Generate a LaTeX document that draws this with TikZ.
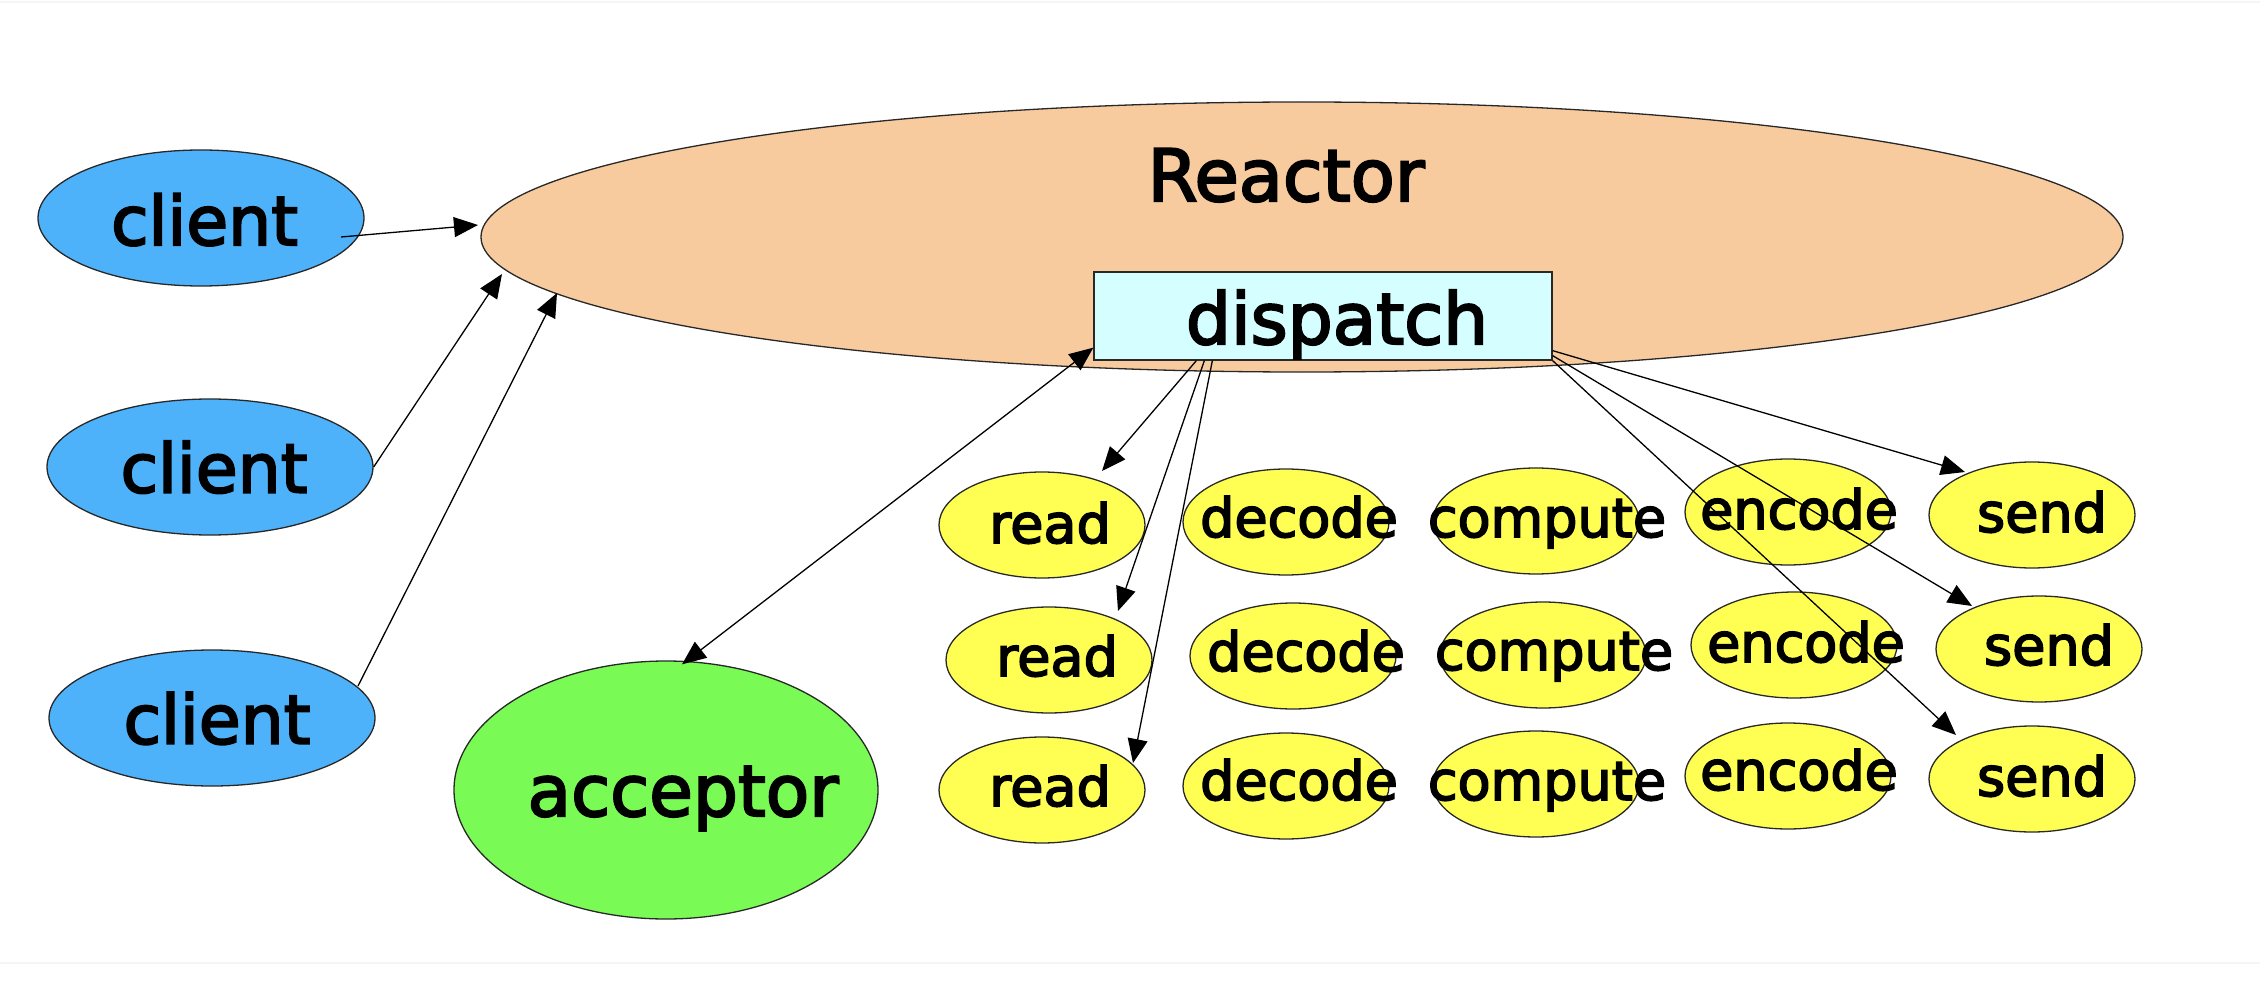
\documentclass[tikz,border=0pt]{standalone}
\usepackage{fontspec}
\setmainfont{DejaVu Sans}[FakeBold=3]
\usetikzlibrary{shapes.geometric,arrows.meta,calc}
\definecolor{clientblue}{RGB}{77,178,250}
\definecolor{reactorpeach}{RGB}{247,203,158}
\definecolor{dispcyan}{RGB}{212,254,255}
\definecolor{accgreen}{RGB}{122,250,85}
\definecolor{yelfill}{RGB}{255,255,83}
\definecolor{edgegray}{RGB}{40,40,40}
\newcommand{\ynode}[6]{%
  \node[ybox] (#1) at (#2,#3) {};
  \node[ytext] (#1t) at (#5,#6) {#4};}
\begin{document}
\begin{tikzpicture}[x=1pt,y=-1pt,
  shapeline/.style={draw=edgegray,line width=1.3pt},
  ell/.style={shapeline,ellipse,inner sep=0pt},
  ybox/.style={ell,fill=yelfill,minimum width=206pt,minimum height=106pt},
  cbox/.style={ell,fill=clientblue,minimum width=326pt,minimum height=136pt},
  ytext/.style={anchor=base,inner sep=0pt,font=\fontsize{54}{60}\selectfont},
  btext/.style={anchor=base,inner sep=0pt,font=\fontsize{68}{76}\selectfont},
  ltext/.style={anchor=base,inner sep=0pt,font=\fontsize{72}{80}\selectfont},
  conn/.style={draw=black,line width=1.3pt,-{Triangle[length=24pt,width=20pt]}},
  dconn/.style={draw=black,line width=1.3pt,{Triangle[length=24pt,width=20pt]}-{Triangle[length=24pt,width=20pt]}}]
\useasboundingbox (0,0) rectangle (2260,984);
\fill[white] (0,0) rectangle (2260,984);
\draw[black!4,line width=1.5pt] (0,2) -- (2260,2);
\draw[black!4,line width=1.5pt] (0,963) -- (2260,963);
% Reactor
\node[ell,fill=reactorpeach,minimum width=1642pt,minimum height=270pt] (reactor) at (1302,237) {};
\node[ltext] (reactort) at (1286,201) {Reactor};
\node[shapeline,rectangle,fill=dispcyan,inner sep=0pt,minimum width=458pt,minimum height=88pt] (dispatch) at (1323,316) {};
\node[inner sep=0pt,anchor=base,font=\fontsize{71}{80}\selectfont] (dispatcht) at (1337,344) {dispatch};
% clients
\node[cbox] (client1) at (201,218) {};
\node[btext] (client1t) at (204.5,245) {client};
\node[cbox] (client2) at (210,467) {};
\node[btext] (client2t) at (214,492.5) {client};
\node[cbox] (client3) at (212,718) {};
\node[btext] (client3t) at (217,743.7) {client};
% acceptor
\node[ell,fill=accgreen,minimum width=424pt,minimum height=258pt] (acceptor) at (666,790) {};
\node[inner sep=0pt,anchor=base,font=\fontsize{71}{80}\selectfont] (acceptort) at (683,816) {acceptor};
% workers
\ynode{read1}{1042}{525}{read}{1050}{543}
\ynode{decode1}{1286}{522}{decode}{1299}{537}
\ynode{compute1}{1536}{521}{compute}{1547}{537}
\ynode{encode1}{1788}{512}{encode}{1799}{529}
\ynode{send1}{2032}{515}{send}{2042}{532}
\ynode{read2}{1049}{660}{read}{1057}{676}
\ynode{decode2}{1293}{656}{decode}{1306}{671}
\ynode{compute2}{1543}{655}{compute}{1554}{670}
\ynode{encode2}{1794}{645}{encode}{1806}{662}
\ynode{send2}{2039}{649}{send}{2049}{665}
\ynode{read3}{1042}{790}{read}{1050}{806}
\ynode{decode3}{1286}{786}{decode}{1299}{800}
\ynode{compute3}{1536}{784}{compute}{1547}{800}
\ynode{encode3}{1788}{776}{encode}{1799}{790}
\ynode{send3}{2032}{779}{send}{2042}{796}
% connectors
\draw[conn] ($(client1.center)+(140,19)$) -- ($(reactor.center)+(-824,-12)$);
\draw[conn] (client2.east) -- ($(reactor.center)+(-800,37)$);
\draw[conn] ($(client3.center)+(146,-32)$) -- ($(reactor.center)+(-745,56)$);
\draw[dconn] ($(acceptor.north)+(16,4)$) -- ($(dispatch.south west)+(0,-13)$);
\draw[conn] ($(dispatch.south west)+(103,0)$) -- ($(read1.center)+(60,-54)$);
\draw[conn] ($(dispatch.south west)+(111,0)$) -- ($(read2.center)+(69,-49)$);
\draw[conn] ($(dispatch.south west)+(119,0)$) -- ($(read3.center)+(91,-27)$);
\draw[conn] ($(dispatch.south east)+(0,-10)$) -- ($(send1.center)+(-67,-43)$);
\draw[conn] ($(dispatch.south east)+(0,-5)$) -- ($(send2.center)+(-67,-43)$);
\draw[conn] (dispatch.south east) -- ($(send3.center)+(-76,-44)$);
\end{tikzpicture}
\end{document}
